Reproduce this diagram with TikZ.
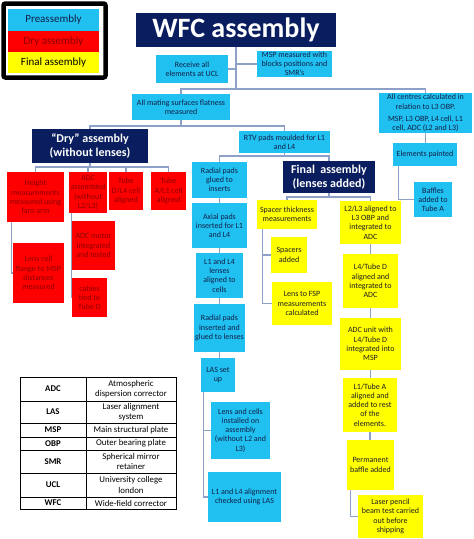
\documentclass[tikz,border=0pt]{standalone}
\usepackage{fontspec}
\setmainfont{Carlito}
\definecolor{cy}{RGB}{32,192,240}
\definecolor{navy}{RGB}{10,30,95}
\definecolor{rd}{RGB}{255,0,0}
\definecolor{yl}{RGB}{255,255,0}
\definecolor{ln}{RGB}{140,160,200}
\definecolor{cytxt}{RGB}{18,32,72}
\definecolor{rdtxt}{RGB}{140,0,0}
\definecolor{yltxt}{RGB}{30,30,40}
\newcommand\boxfont{\fontsize{8}{9.2}\selectfont}
\newcommand\tabfont{\fontsize{8.8}{10.6}\selectfont}
\tikzset{
 basebox/.style={inner sep=0pt, align=center, font=\boxfont},
 pre/.style={basebox, fill=cy, text=cytxt},
 dryb/.style={basebox, fill=rd, text=rdtxt},
 fin/.style={basebox, fill=yl, text=yltxt},
 hdr/.style={inner sep=0pt, align=center, fill=navy, text=white, font=\bfseries\fontsize{12}{13.5}\selectfont},
 conn/.style={draw=ln, line width=1.1pt},
 tabA/.style={inner sep=0pt, align=center, font=\tabfont\bfseries},
 tabB/.style={inner sep=0pt, align=center, font=\tabfont},
 legtxt/.style={inner sep=0pt, font=\fontsize{11}{12}\selectfont},
}
\newcommand\wbox[7]{%
 \pgfmathsetmacro\bw{#4-#2}\pgfmathsetmacro\bh{#5-#3}%
 \pgfmathsetmacro\bcx{(#2+#4)/2}\pgfmathsetmacro\bcy{(#3+#5)/2}%
 \node[#6,minimum width=\bw pt,minimum height=\bh pt] (#1) at (\bcx,\bcy) {#7};}
\begin{document}
\begin{tikzpicture}[x=1pt,y=-1pt]
\useasboundingbox (0,0) rectangle (474,539);
% legend
\fill[cy] (8,9) rectangle (99,31);
\fill[rd] (8,31) rectangle (99,52);
\fill[yl] (8,52) rectangle (99,73);
\draw[line width=4.5pt, rounded corners=2pt] (3.5,3.5) rectangle (105.5,77.5);
\node[legtxt, text=cytxt] (lg1) at (53.5,20) {Preassembly};
\node[legtxt, text=rdtxt] (lg2) at (53.5,41.5) {Dry assembly};
\node[legtxt, text=black] (lg3) at (53.5,62.5) {Final assembly};
% title
\wbox{wfc}{136}{13}{336}{47}{hdr,font=\bfseries\fontsize{28}{30}\selectfont}{WFC assembly}
% preassembly top
\wbox{recv}{156}{55}{228}{83}{pre}{Receive all\\elements at UCL}
\wbox{msp}{257}{51}{332}{77}{pre}{MSP measured with\\blocks positions and\\SMR’s}
\wbox{mating}{132}{94}{230}{120}{pre}{All mating surfaces flatness\\measured}
\wbox{centres}{379}{93}{472}{133}{pre}{All centres calculated in\\relation to L3 OBP.\\[3pt]MSP, L3 OBP, L4 cell, L1\\cell, ADC (L2 and L3)}
\wbox{painted}{393}{143}{457}{166}{pre}{Elements painted}
\wbox{baffles}{414}{182}{452}{217}{pre}{Baffles\\added to\\Tube A}
% dry
\wbox{dry}{32}{129}{148}{163}{hdr}{“Dry” assembly\\(without lenses)}
\wbox{height}{7}{172}{64}{222}{dryb}{Height\\measurements\\measured using\\faro arm}
\wbox{adc}{69}{172}{107}{213}{dryb}{ADC\\assembled\\(without\\L2/L3)}
\wbox{tubed}{109}{172}{143}{210}{dryb}{Tube\\D/L4 cell\\aligned}
\wbox{tubea}{151}{172}{186}{210}{dryb}{Tube\\A/L1 cell\\aligned}
\wbox{lenscell}{13}{243}{64}{303}{dryb}{Lens cell\\flange to MSP\\distances\\measured}
\wbox{adcmotor}{72}{221}{115}{270}{dryb}{ADC motor\\integrated\\and tested}
\wbox{cables}{72}{278}{107}{317}{dryb}{cables\\tied to\\Tube D}
% blue column
\wbox{rtv}{239}{131}{330}{153}{pre}{RTV pads moulded for L1\\and L4}
\wbox{radial}{192}{162}{247}{198}{pre}{Radial pads\\glued to\\inserts}
\wbox{axial}{192}{203}{247}{248}{pre}{Axial pads\\inserted for L1\\and L4}
\wbox{lonefour}{196}{253}{243}{298}{pre}{L1 and L4\\lenses\\aligned to\\cells}
\wbox{radialb}{194}{304}{245}{352}{pre}{Radial pads\\inserted and\\glued to lenses}
\wbox{las}{201}{358}{235}{392}{pre}{LAS set\\up}
\wbox{lensinst}{211}{402}{270}{459}{pre}{Lens and cells\\installed on\\assembly\\(without L2 and\\L3)}
\wbox{lcheck}{208}{472}{281}{522}{pre}{L1 and L4 alignment\\checked using LAS}
% final
\wbox{final}{283}{161}{375}{193}{hdr}{Final~ assembly\\(lenses added)}
\wbox{spacer}{257}{200}{317}{229}{fin}{Spacer thickness\\measurements}
\wbox{spadd}{271}{237}{307}{273}{fin}{Spacers\\added}
\wbox{lensfsp}{272}{282}{332}{325}{fin}{Lens to FSP\\measurements\\calculated}
\wbox{ltwo}{340}{201}{401}{244}{fin}{L2/L3 aligned to\\L3 OBP and\\integrated to\\ADC}
\wbox{lfour}{343}{254}{398}{308}{fin}{L4/Tube D\\aligned and\\integrated to\\ADC}
\wbox{adcunit}{340}{318}{401}{370}{fin}{ADC unit with\\L4/Tube D\\integrated into\\MSP}
\wbox{lone}{343}{378}{397}{432}{fin}{L1/Tube A\\aligned and\\added to rest\\of the\\elements.}
\wbox{perm}{347}{440}{394}{490}{fin}{Permanent\\baffle added}
\wbox{laser}{358}{495}{423}{538}{fin}{Laser pencil\\beam test carried\\out before\\shipping}
% connectors
\coordinate (j1) at (236,89);
\coordinate (j2) at (181,126);
\coordinate (j3) at (90,167);
\coordinate (j4) at (284.5,156);
\coordinate (j5) at (329,197);
\draw[conn] (wfc.south) |- (recv.east);
\draw[conn] (wfc.south) |- (msp.west);
\draw[conn] (wfc.south) -- (j1);
\draw[conn] (mating.north) |- (j1) -| (centres.north);
\draw[conn] (mating.south) -- (j2);
\draw[conn] (dry.north) |- (j2) -| (rtv.north);
\draw[conn] (dry.south) -- (j3);
\draw[conn] (height.north) |- (j3) -| (tubea.north);
\draw[conn] (adc.north) -- (adc.north |- j3);
\draw[conn] (tubed.north) -- (tubed.north |- j3);
\draw[conn] ([xshift=5pt]height.south west) |- (lenscell.west);
\draw[conn] ([xshift=2.5pt]adc.south west) |- (adcmotor.west);
\draw[conn] ([xshift=2.5pt]adc.south west) |- (cables.west);
\draw[conn] (rtv.south) -- (j4);
\draw[conn] (radial.north) |- (j4) -| (final.north);
\draw[conn] (radial.south) -- (axial.north);
\draw[conn] (axial.south) -- (lonefour.north -| axial.south);
\draw[conn] (lonefour.south) -- (radialb.north -| lonefour.south);
\draw[conn] (radialb.south) -- (las.north -| radialb.south);
\draw[conn] ([xshift=3pt]las.south west) |- (lensinst.west);
\draw[conn] ([xshift=3pt]las.south west) |- (lcheck.west);
\draw[conn] (final.south) -- (j5);
\draw[conn] (spacer.north) |- (j5) -| (ltwo.north);
\draw[conn] ([xshift=6pt]spacer.south west) |- (spadd.west);
\draw[conn] ([xshift=6pt]spacer.south west) |- (lensfsp.west);
\draw[conn] (ltwo.south) -- (lfour.north -| ltwo.south);
\draw[conn] (lfour.south) -- (adcunit.north -| lfour.south);
\draw[conn] (adcunit.south) -- (lone.north -| adcunit.south);
\draw[conn] (lone.south) -- (perm.north -| lone.south);
\draw[conn] ([xshift=4pt]perm.south west) |- (laser.west);
\draw[conn] (centres.south) -- (painted.north -| centres.south);
\draw[conn] ([xshift=6pt]painted.south west) |- (baffles.west);
% glossary table
\draw[line width=0.8pt] (20,377) rectangle (176,509);
\draw[line width=0.8pt] (86,377) -- (86,509);
\foreach \yy in {401,423,437,450,473,497} \draw[line width=0.8pt] (20,\yy) -- (176,\yy);
\node[tabA] (ta1) at (53,389) {ADC};
\node[tabB] (tb1) at (131,389) {Atmospheric\\dispersion corrector};
\node[tabA] (ta2) at (53,412) {LAS};
\node[tabB] (tb2) at (131,412) {Laser alignment\\system};
\node[tabA] (ta3) at (53,430) {MSP};
\node[tabB] (tb3) at (131,430) {Main structural plate};
\node[tabA] (ta4) at (53,443.5) {OBP};
\node[tabB] (tb4) at (131,443.5) {Outer bearing plate};
\node[tabA] (ta5) at (53,461.5) {SMR};
\node[tabB] (tb5) at (131,461.5) {Spherical mirror\\retainer};
\node[tabA] (ta6) at (53,485) {UCL};
\node[tabB] (tb6) at (131,485) {University college\\london};
\node[tabA] (ta7) at (53,503) {WFC};
\node[tabB] (tb7) at (131,503) {Wide-field corrector};
\end{tikzpicture}
\end{document}
